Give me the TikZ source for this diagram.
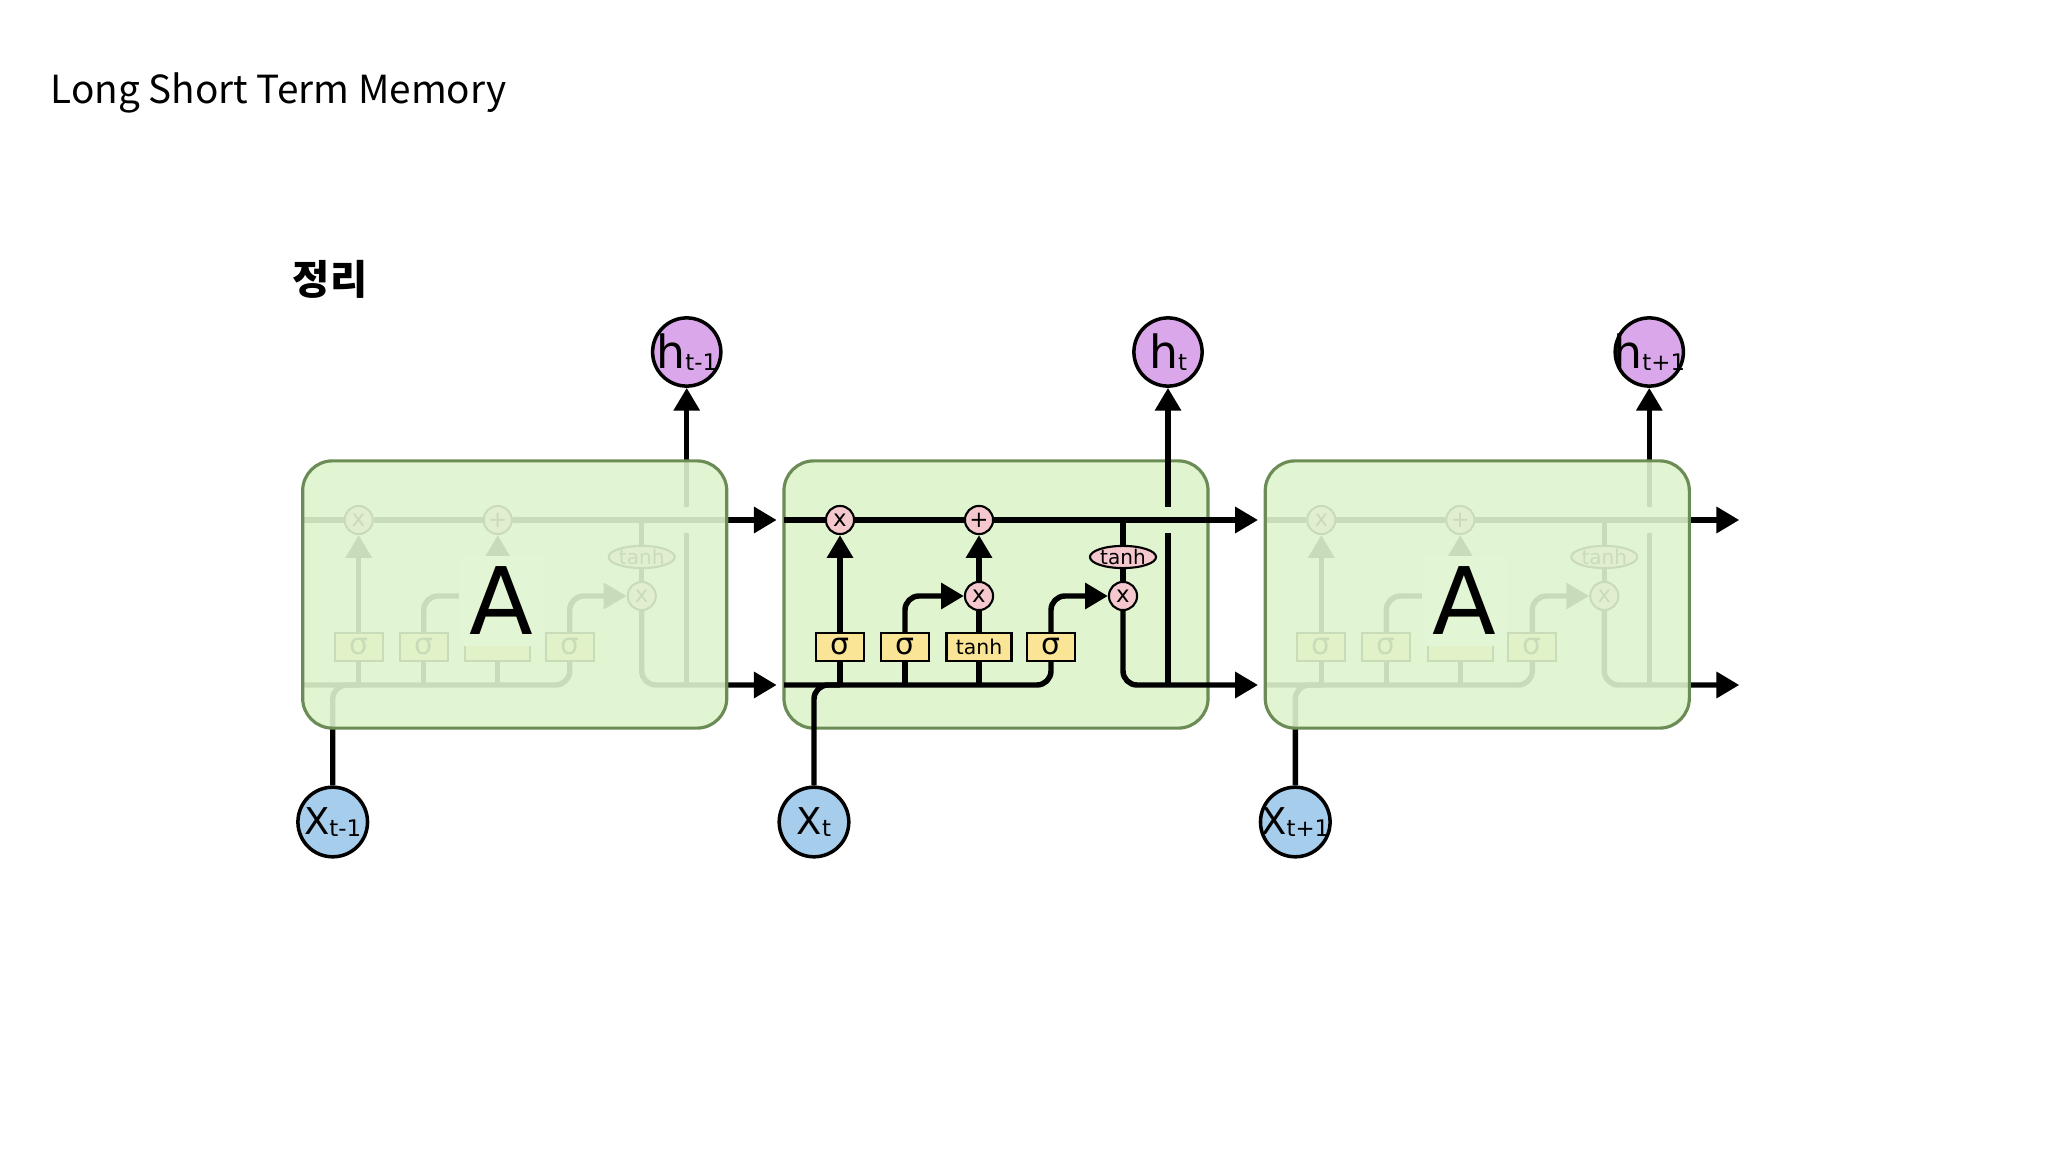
\documentclass[tikz,border=0pt]{standalone}
\usepackage{fontspec}
\setmainfont{DejaVu Sans}
\newfontfamily\krfont{Noto Sans CJK KR}
\usetikzlibrary{arrows.meta,shapes.geometric}

\definecolor{cellgreen}{RGB}{223,244,207}
\definecolor{celledge}{RGB}{108,140,86}
\definecolor{gateyellow}{RGB}{250,229,150}
\definecolor{oppink}{RGB}{244,200,205}
\definecolor{hpurple}{RGB}{218,168,234}
\definecolor{xblue}{RGB}{166,205,236}

\tikzset{
  wire/.style={line width=1.55pt},
  flow/.style={line width=1.55pt, -{Triangle[length=6.5pt,width=7.2pt]}},
  cellbox/.style={rectangle, rounded corners=8.5pt, draw=celledge, line width=0.9pt,
    minimum width=120.6pt, minimum height=76pt, inner sep=0pt},
  celltext/.style={fill=cellgreen!90!white, inner sep=3pt, font=\fontsize{26.5}{26.5}\selectfont},
  gatebox/.style={rectangle, draw, line width=0.6pt, fill=gateyellow, minimum width=13.7pt,
    minimum height=8pt, inner sep=0pt, font=\fontsize{8.5}{8.5}\selectfont},
  opcirc/.style={circle, draw, line width=0.6pt, fill=oppink, minimum size=8pt,
    inner sep=0pt, font=\fontsize{6.5}{6.5}\selectfont},
  opoval/.style={ellipse, draw, line width=0.6pt, fill=oppink, minimum width=18.8pt,
    minimum height=6.3pt, inner sep=0pt, font=\fontsize{5.7}{5.7}\selectfont},
  hnode/.style={circle, draw, line width=1pt, fill=hpurple, minimum size=19.4pt, inner sep=0pt},
  xnode/.style={circle, draw, line width=1pt, fill=xblue, minimum size=19.8pt, inner sep=0pt},
}

% inside of one cell, drawn in the coordinates of the middle cell
% #1 prefix of the names, #2 text of the tanh layer, #3 time index, #4 text of the input mult
\newcommand\lstminside[4]{
  \coordinate (#1tl) at (784,520);
  \coordinate (#1bl) at (784,685);
  \coordinate (#1tout) at (1258,520);
  \coordinate (#1bout) at (1258,685);
  \coordinate (#1gaplo) at (1168,533);
  \coordinate (#1gaphi) at (1168,507);
  \node[opcirc] (#1fx) at (840,520) {x};
  \node[opcirc] (#1pl) at (979,520) {+};
  \node[opcirc] (#1ix) at (979,596) {#4};
  \node[opcirc] (#1ox) at (1123,596) {x};
  \node[opoval] (#1th) at (1123,557) {tanh};
  \node[gatebox] (#1s1) at (840,647) {σ};
  \node[gatebox] (#1s2) at (905,647) {σ};
  \node[gatebox, minimum width=18.5pt, font=\fontsize{5.8}{5.8}\selectfont] (#1tb) at (979,647) {#2};
  \node[gatebox] (#1s3) at (1051,647) {σ};
  \node[hnode] (#1h) at (1168,352)
    {\makebox[0pt]{\fontsize{13}{13}\selectfont h\raisebox{-0.4pt}{\fontsize{6.5}{6.5}\selectfont #3}}};
  \node[xnode] (#1x) at (814,822)
    {\makebox[0pt]{\fontsize{10.5}{10.5}\selectfont X\raisebox{-0.4pt}{\fontsize{6.5}{6.5}\selectfont #3}}};
  % cell state
  \draw[wire] (#1tl) -- (#1fx.west);
  \draw[wire] (#1fx.east) -- (#1pl.west);
  \draw[flow] (#1pl.east) -- (#1tout);
  % input and gates
  \draw[wire, rounded corners=4pt] (#1bl) -| (#1s3.south);
  \draw[wire, rounded corners=4pt] (#1x.north) |- (#1s1.south |- #1bl);
  \draw[wire] (#1s1.south |- #1bl) -- (#1s1.south);
  \draw[flow] (#1s1.north) -- (#1fx.south);
  \draw[wire] (#1s2.south |- #1bl) -- (#1s2.south);
  \draw[flow, rounded corners=4pt] (#1s2.north) |- (#1ix.west);
  \draw[wire] (#1tb.south |- #1bl) -- (#1tb.south);
  \draw[wire] (#1tb.north) -- (#1ix.south);
  \draw[flow] (#1ix.north) -- (#1pl.south);
  \draw[flow, rounded corners=4pt] (#1s3.north) |- (#1ox.west);
  % output
  \draw[wire] (#1th.north) -- (#1th.north |- #1tl);
  \draw[wire] (#1ox.north) -- (#1th.south);
  \draw[flow, rounded corners=4pt] (#1ox.south) |- (#1bout);
  \draw[wire] (#1gaplo |- #1bl) -- (#1gaplo);
  \draw[flow] (#1gaphi) -- (#1h.south);
}

\begin{document}
\begin{tikzpicture}[x=0.01cm, y=-0.01cm]
  \useasboundingbox[fill=white] (0,0) rectangle (2048,1152);

  \node[anchor=base west, inner sep=0pt, font=\krfont\fontsize{11}{13}\selectfont] (title) at (50,104) {Long Short Term Memory};
  \node[font=\krfont\bfseries\fontsize{11.5}{14}\selectfont] (summary) at (330,279) {정리};

  % left cell, faded
  \begin{scope}[xshift=-4.81cm]
    \lstminside{l}{}{t-1}{}
    \node[cellbox, fill=cellgreen, fill opacity=0.9] (lcell) at (996,594.5) {};
    \node[celltext] (lA) at (983,601) {A};
  \end{scope}

  % middle cell
  \node[cellbox, fill=cellgreen] (mcell) at (996,594.5) {};
  \lstminside{m}{tanh}{t}{x}

  % right cell, faded
  \begin{scope}[xshift=4.81cm]
    \lstminside{r}{}{t+1}{}
    \node[cellbox, fill=cellgreen, fill opacity=0.9] (rcell) at (996,594.5) {};
    \node[celltext] (rA) at (983,601) {A};
  \end{scope}
\end{tikzpicture}
\end{document}
